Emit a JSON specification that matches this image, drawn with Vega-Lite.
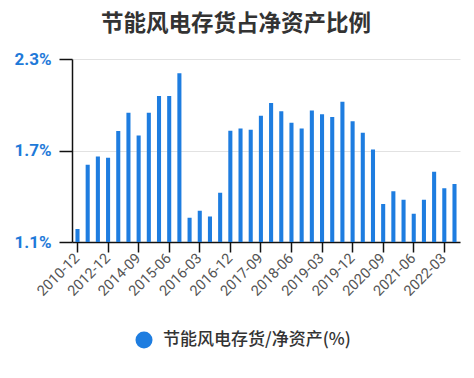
{
  "$schema": "https://vega.github.io/schema/vega-lite/v6.json",
  "autosize": {"type": "none"},
  "width": 388,
  "height": 183,
  "padding": {"left": 72, "top": 59, "right": 14, "bottom": 136},
  "background": "white",
  "title": {
    "text": "节能风电存货占净资产比例",
    "fontSize": 22.5,
    "fontWeight": "bold",
    "color": "#333333",
    "font": "Noto Sans CJK SC",
    "anchor": "middle",
    "dx": -30,
    "offset": 15
  },
  "data": {
    "values": [
      {"date": "2010-12", "v": 1.185},
      {"date": "2011-12", "v": 1.607},
      {"date": "2012-06", "v": 1.661},
      {"date": "2012-12", "v": 1.653},
      {"date": "2013-12", "v": 1.828},
      {"date": "2014-06", "v": 1.948},
      {"date": "2014-09", "v": 1.799},
      {"date": "2014-12", "v": 1.948},
      {"date": "2015-03", "v": 2.057},
      {"date": "2015-06", "v": 2.057},
      {"date": "2015-09", "v": 2.206},
      {"date": "2015-12", "v": 1.259},
      {"date": "2016-03", "v": 1.305},
      {"date": "2016-06", "v": 1.268},
      {"date": "2016-09", "v": 1.423},
      {"date": "2016-12", "v": 1.830},
      {"date": "2017-03", "v": 1.845},
      {"date": "2017-06", "v": 1.836},
      {"date": "2017-09", "v": 1.928},
      {"date": "2017-12", "v": 2.011},
      {"date": "2018-03", "v": 1.957},
      {"date": "2018-06", "v": 1.882},
      {"date": "2018-09", "v": 1.845},
      {"date": "2018-12", "v": 1.963},
      {"date": "2019-03", "v": 1.937},
      {"date": "2019-06", "v": 1.920},
      {"date": "2019-09", "v": 2.020},
      {"date": "2019-12", "v": 1.891},
      {"date": "2020-03", "v": 1.817},
      {"date": "2020-06", "v": 1.707},
      {"date": "2020-09", "v": 1.349},
      {"date": "2020-12", "v": 1.432},
      {"date": "2021-03", "v": 1.377},
      {"date": "2021-06", "v": 1.286},
      {"date": "2021-09", "v": 1.377},
      {"date": "2021-12", "v": 1.561},
      {"date": "2022-03", "v": 1.452},
      {"date": "2022-06", "v": 1.480}
    ]
  },
  "mark": {"type": "bar", "clip": true},
  "encoding": {
    "x": {
      "field": "date",
      "type": "ordinal",
      "sort": null,
      "scale": {"paddingInner": 0.6, "paddingOuter": 0.34},
      "axis": {
        "title": null,
        "values": ["2010-12", "2012-12", "2014-09", "2015-06", "2016-03", "2016-12", "2017-09", "2018-06", "2019-03", "2019-12", "2020-09", "2021-06", "2022-03"],
        "labelAngle": -45,
        "labelAlign": "right",
        "labelBaseline": "middle",
        "labelFontSize": 14.5,
        "labelColor": "#555555",
        "labelFont": "Roboto",
        "labelPadding": 4,
        "domainColor": "#111111",
        "domainWidth": 1.5,
        "tickColor": "#111111",
        "tickWidth": 1.5,
        "tickSize": 10,
        "grid": false
      }
    },
    "y": {
      "field": "v",
      "type": "quantitative",
      "scale": {"domain": [1.1, 2.3], "nice": false, "zero": false},
      "axis": {
        "title": null,
        "values": [1.1, 1.7, 2.3],
        "labelExpr": "format(datum.value, '.1f') + '%'",
        "labelFontSize": 17,
        "labelFontWeight": "bold",
        "labelColor": "#1f7ad9",
        "labelFont": "Roboto",
        "labelPadding": 8,
        "domainColor": "#111111",
        "domainWidth": 1.5,
        "tickColor": "#111111",
        "tickWidth": 1.5,
        "tickSize": 13,
        "grid": true,
        "gridColor": "#e2e2e2",
        "gridWidth": 1
      }
    },
    "color": {
      "datum": "节能风电存货/净资产(%)",
      "type": "nominal",
      "scale": {"range": ["#1e7de0"]},
      "legend": {
        "title": null,
        "orient": "none",
        "legendX": 63,
        "legendY": 272,
        "symbolType": "circle",
        "symbolSize": 290,
        "symbolStrokeWidth": 0,
        "labelFontSize": 17,
        "labelFontWeight": 500,
        "labelLimit": 400,
        "labelColor": "#333333",
        "labelFont": "Noto Sans CJK SC",
        "labelOffset": 10,
        "padding": 0
      }
    }
  },
  "config": {"view": {"stroke": null}}
}
